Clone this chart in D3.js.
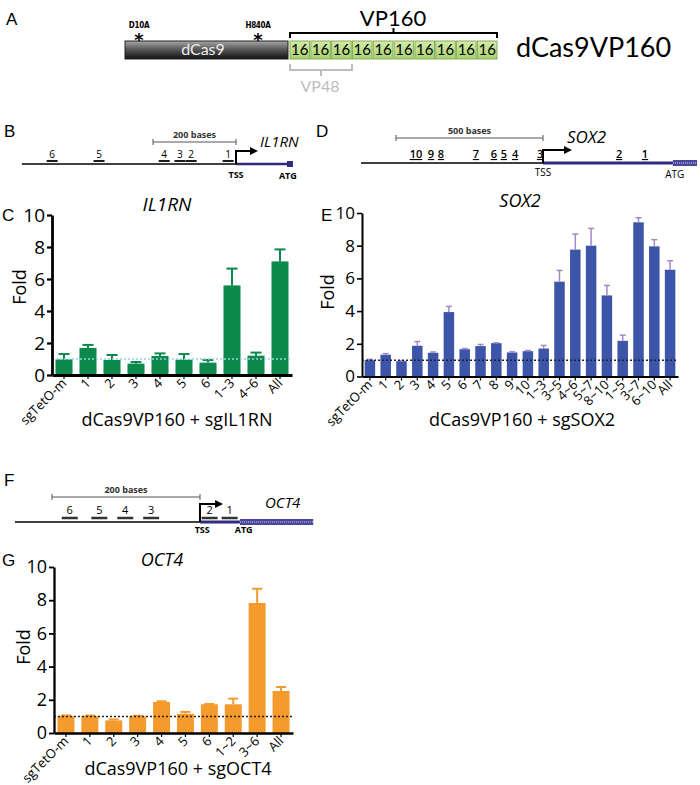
<!DOCTYPE html>
<html>
<head>
<meta charset="utf-8">
<title>dCas9VP160 activation</title>
<script src="https://d3js.org/d3.v7.min.js"></script>
<style>
  body { margin: 0; background: #fff; }
  svg { display: block; }
</style>
</head>
<body>
<div id="chart"></div>
<script>
// ---- data ----
var yTicks = [0, 2, 4, 6, 8, 10];

var il1rnLabels = ["sgTetO-m", "1", "2", "3", "4", "5", "6", "1~3", "4~6", "All"];
var il1rnFold = [0.98, 1.69, 0.94, 0.71, 1.19, 0.96, 0.77, 5.6, 1.21, 7.1];
var il1rnErr = [0.33, 0.19, 0.31, 0.10, 0.16, 0.35, 0.17, 1.05, 0.19, 0.75];

var sox2Labels = ["sgTetO-m", "1", "2", "3", "4", "5", "6", "7", "8", "9", "10",
  "1~3", "3~5", "4~6", "5~7", "8~10", "1~5", "3~7", "6~10", "All"];
var sox2Fold = [1.0, 1.33, 0.94, 1.88, 1.45, 3.94, 1.67, 1.86, 2.04, 1.47, 1.55,
  1.71, 5.8, 7.76, 8.0, 4.96, 2.18, 9.43, 7.96, 6.53];
var sox2Err = [0.05, 0.07, 0.03, 0.26, 0.05, 0.35, 0.04, 0.10, 0.02, 0.04, 0.04,
  0.19, 0.69, 0.95, 1.06, 0.61, 0.35, 0.28, 0.41, 0.55];

var oct4Labels = ["sgTetO-m", "1", "2", "3", "4", "5", "6", "1~2", "3~6", "All"];
var oct4Fold = [1.02, 1.02, 0.76, 1.0, 1.87, 1.16, 1.73, 1.73, 7.83, 2.53];
var oct4Err = [0.04, 0.03, 0.06, 0.04, 0.04, 0.11, 0.02, 0.34, 0.86, 0.24];

// guide positions in bases relative to the TSS
var il1rnGuides = ["6", "5", "4", "3", "2", "1"];
var il1rnGuidePos = [-443, -330, -173, -135, -108, -19];
var sox2Guides = ["10", "9", "8", "7", "6", "5", "4", "3", "2", "1"];
var sox2GuidePos = [-432, -381, -347, -228, -167, -133, -95, -10, 259, 347];
var oct4Guides = ["6", "5", "4", "3", "2", "1"];
var oct4GuidePos = [-176, -136, -101, -66, 13, 40];

var vpUnits = ["16", "16", "16", "16", "16", "16", "16", "16", "16", "16"];

var F = "'Open Sans', sans-serif";
var svg = d3.select("#chart").append("svg").attr("width", 700).attr("height", 785);

function letter(t, x, y) {
  svg.append("text").attr("x", x).attr("y", y).text(t)
    .attr("font-family", "'Liberation Sans', Arial, sans-serif").attr("font-size", 17);
}

// ---- panel A : construct ----
letter("A", 6, 25);
var defs = svg.append("defs");
var grad = defs.append("linearGradient").attr("id", "cas").attr("x1", 0).attr("y1", 0).attr("x2", 0).attr("y2", 1);
grad.append("stop").attr("offset", "0%").attr("stop-color", "#a8a8a8");
grad.append("stop").attr("offset", "45%").attr("stop-color", "#5a5a5a");
grad.append("stop").attr("offset", "100%").attr("stop-color", "#111");
var ggrad = defs.append("linearGradient").attr("id", "vp").attr("x1", 0).attr("y1", 0).attr("x2", 0).attr("y2", 1);
ggrad.append("stop").attr("offset", "0%").attr("stop-color", "#d2eba9");
ggrad.append("stop").attr("offset", "100%").attr("stop-color", "#a9d170");

svg.append("rect").attr("x", 125).attr("y", 41).attr("width", 163).attr("height", 18)
  .attr("fill", "url(#cas)").attr("stroke", "#222").attr("stroke-width", 1);
svg.append("text").attr("x", 203).attr("y", 55).attr("text-anchor", "middle")
  .attr("fill", "#eee").attr("font-family", "Lato, sans-serif").attr("font-size", 16).text("dCas9");

var ux = d3.scaleBand().domain(d3.range(vpUnits.length)).range([290, 497]).paddingInner(0.06);
svg.selectAll(".vp").data(vpUnits).join("rect")
  .attr("x", function(d, i) { return ux(i); }).attr("y", 41)
  .attr("width", ux.bandwidth()).attr("height", 18)
  .attr("fill", "url(#vp)").attr("stroke", "#86ad58").attr("stroke-width", 1);
svg.selectAll(".vpt").data(vpUnits).join("text")
  .attr("x", function(d, i) { return ux(i) + ux.bandwidth() / 2; }).attr("y", 55)
  .attr("text-anchor", "middle").attr("font-family", "Lato, sans-serif").attr("font-size", 15).text(function(d) { return d; });

// mutations
[["D10A", 139], ["H840A", 258]].forEach(function(m) {
  svg.append("text").attr("x", m[1]).attr("y", 28).attr("text-anchor", "middle")
    .attr("font-family", "'DejaVu Sans Condensed', 'DejaVu Sans', sans-serif").attr("font-weight", "bold")
    .attr("font-size", 8).attr("letter-spacing", -0.3).text(m[0]);
  svg.append("text").attr("x", m[1]).attr("y", 46).attr("text-anchor", "middle")
    .attr("font-family", "'DejaVu Sans', sans-serif").attr("font-weight", "bold").attr("font-size", 18).text("*");
});

// VP160 bracket
svg.append("path").attr("d", "M290,38 V33 H497 V38 M393.5,33 V28")
  .attr("fill", "none").attr("stroke", "#000").attr("stroke-width", 2);
svg.append("text").attr("x", 393).attr("y", 26).attr("text-anchor", "middle")
  .attr("font-family", "Lato, sans-serif").attr("font-size", 22).text("VP160");
svg.append("text").attr("x", 516).attr("y", 57)
  .attr("font-family", "Lato, sans-serif").attr("font-size", 27).text("dCas9VP160");
// VP48 bracket
svg.append("path").attr("d", "M290,64 V70 H352 V64 M321,70 V76")
  .attr("fill", "none").attr("stroke", "#bdbdbd").attr("stroke-width", 2);
svg.append("text").attr("x", 320).attr("y", 92).attr("text-anchor", "middle").attr("fill", "#bdbdbd")
  .attr("font-family", "Lato, sans-serif").attr("font-size", 16).text("VP48");

// ---- promoter schematics ----
var navy = "#2e2c7c";
function smallText(t, x, y, size, anchor) {
  return svg.append("text").attr("x", x).attr("y", y).attr("text-anchor", anchor || "middle")
    .attr("font-family", F).attr("font-size", size).text(t);
}
function scaleBar(x1, x2, y, label) {
  svg.append("path").attr("d", "M" + x1 + "," + (y - 3) + "V" + (y + 3) + "M" + x1 + "," + y + "H" + x2 + "M" + x2 + "," + (y - 3) + "V" + (y + 3))
    .attr("stroke", "#555").attr("stroke-width", 1).attr("fill", "none");
  smallText(label, (x1 + x2) / 2, y - 4, 9).attr("font-weight", "bold").attr("fill", "#333");
}
function tssArrow(x, yLine, yTop, xEnd) {
  svg.append("path").attr("d", "M" + x + "," + yLine + "V" + yTop + "H" + (xEnd - 6))
    .attr("fill", "none").attr("stroke", "#000").attr("stroke-width", 2);
  svg.append("path").attr("d", "M" + xEnd + "," + yTop + "l-8,-4v8z").attr("fill", "#000");
}
function hatch(x1, x2, y) {
  svg.append("rect").attr("x", x1).attr("y", y - 3).attr("width", x2 - x1).attr("height", 6).attr("fill", "#4a479a");
  svg.append("line").attr("x1", x1).attr("x2", x2).attr("y1", y).attr("y2", y)
    .attr("stroke", "#a9a7d6").attr("stroke-width", 1.5).attr("stroke-dasharray", "1,1");
}

// B : IL1RN
letter("B", 4, 137);
var bx = d3.scaleLinear().domain([-200, 0]).range([153, 236]);
svg.append("line").attr("x1", bx(-516)).attr("x2", bx(0)).attr("y1", 164).attr("y2", 164).attr("stroke", "#000").attr("stroke-width", 1.5);
svg.append("line").attr("x1", bx(0)).attr("x2", bx(130)).attr("y1", 164).attr("y2", 164).attr("stroke", navy).attr("stroke-width", 2.5);
svg.append("rect").attr("x", bx(130) - 3).attr("y", 161).attr("width", 6).attr("height", 6).attr("fill", navy);
scaleBar(bx(-200), bx(0), 142, "200 bases");
tssArrow(bx(0), 164, 151, 258);
smallText("IL1RN", 260, 147, 15, "start").attr("font-style", "italic");
smallText("TSS", bx(0), 178, 9).attr("font-weight", "bold");
smallText("ATG", bx(125), 179, 9).attr("font-weight", "bold");
il1rnGuides.forEach(function(g, i) {
  var cx = bx(il1rnGuidePos[i]);
  smallText(g, cx, 158, 10);
  svg.append("line").attr("x1", cx - 5.5).attr("x2", cx + 5.5).attr("y1", 161).attr("y2", 161).attr("stroke", "#000").attr("stroke-width", 1.8);
});

// D : SOX2
letter("D", 316, 137);
var dx = d3.scaleLinear().domain([-500, 0]).range([396, 543]);
svg.append("line").attr("x1", dx(-619)).attr("x2", dx(0)).attr("y1", 163).attr("y2", 163).attr("stroke", "#000").attr("stroke-width", 1.5);
svg.append("line").attr("x1", dx(0)).attr("x2", dx(442)).attr("y1", 163).attr("y2", 163).attr("stroke", navy).attr("stroke-width", 3);
hatch(dx(442), dx(524), 163);
scaleBar(dx(-500), dx(0), 138, "500 bases");
tssArrow(dx(0), 163, 150, 572);
smallText("SOX2", 567, 143, 17, "start").attr("font-style", "italic");
smallText("TSS", dx(0), 176, 10);
smallText("ATG", dx(448), 178, 10);
sox2Guides.forEach(function(g, i) {
  var cx = dx(sox2GuidePos[i]);
  smallText(g, cx, 158, 11).attr("text-decoration", "underline").attr("font-weight", "600");
});

// F : OCT4
letter("F", 4, 486);
var fx = d3.scaleLinear().domain([-200, 0]).range([52, 200]);
svg.append("line").attr("x1", fx(-250)).attr("x2", fx(0)).attr("y1", 522).attr("y2", 522).attr("stroke", "#000").attr("stroke-width", 1.5);
svg.append("line").attr("x1", fx(0)).attr("x2", fx(54)).attr("y1", 522).attr("y2", 522).attr("stroke", navy).attr("stroke-width", 3);
hatch(fx(54), fx(153), 522);
scaleBar(fx(-200), fx(0), 497, "200 bases");
tssArrow(fx(0), 522, 504, 223);
smallText("OCT4", 265, 508, 15, "start").attr("font-style", "italic");
smallText("TSS", fx(3), 533, 9).attr("font-weight", "bold");
smallText("ATG", fx(59), 533, 9).attr("font-weight", "bold");
oct4Guides.forEach(function(g, i) {
  var cx = fx(oct4GuidePos[i]);
  smallText(g, cx, 514, 11);
  svg.append("line").attr("x1", cx - 8).attr("x2", cx + 8).attr("y1", 518).attr("y2", 518).attr("stroke", "#333").attr("stroke-width", 2.5);
});

// ---- bar charts ----
function barPanel(p) {
  var x = d3.scaleBand().domain(p.labels).range([p.left, p.right])
    .paddingInner(p.pad).paddingOuter(p.pad / 2);
  var y = d3.scaleLinear().domain([0, 10]).range([p.bottom, p.top]);
  var rows = p.labels.map(function(l, i) { return { label: l, v: p.fold[i], e: p.err[i] }; });
  var g = svg.append("g");

  g.selectAll(".bar").data(rows).join("rect")
    .attr("x", function(d) { return x(d.label); })
    .attr("y", function(d) { return y(d.v); })
    .attr("width", x.bandwidth())
    .attr("height", function(d) { return y(0) - y(d.v); })
    .attr("fill", p.color);

  var cx = function(d) { return x(d.label) + x.bandwidth() / 2; };
  g.selectAll(".err").data(rows).join("line")
    .attr("x1", cx).attr("x2", cx)
    .attr("y1", function(d) { return y(d.v); })
    .attr("y2", function(d) { return y(d.v + d.e); })
    .attr("stroke", p.errColor).attr("stroke-width", p.errW);
  g.selectAll(".cap").data(rows).join("line")
    .attr("x1", function(d) { return cx(d) - p.cap / 2; })
    .attr("x2", function(d) { return cx(d) + p.cap / 2; })
    .attr("y1", function(d) { return y(d.v + d.e); })
    .attr("y2", function(d) { return y(d.v + d.e); })
    .attr("stroke", p.errColor).attr("stroke-width", p.errW);

  g.append("line").attr("x1", p.left).attr("x2", p.right)
    .attr("y1", y(1)).attr("y2", y(1))
    .attr("stroke", p.refColor).attr("stroke-width", 1.5).attr("stroke-dasharray", "2,2");

  var ya = g.append("g").attr("transform", "translate(" + p.left + ",0)")
    .call(d3.axisLeft(y).tickValues(yTicks).tickSize(5).tickSizeOuter(0).tickPadding(2));
  ya.attr("font-family", F).attr("font-size", p.yFont);
  ya.select(".domain").attr("stroke-width", p.axisW);
  ya.selectAll(".tick line").attr("stroke-width", p.axisW * 0.8);

  var xa = g.append("g").attr("transform", "translate(0," + p.bottom + ")")
    .call(d3.axisBottom(x).tickSize(4).tickSizeOuter(0));
  xa.attr("font-family", F).attr("font-size", 13);
  xa.select(".domain").attr("stroke-width", p.axisW);
  xa.selectAll(".tick line").attr("stroke-width", 1.2);
  xa.selectAll("text").attr("x", -4).attr("y", 4).attr("dy", "0.35em")
    .attr("transform", "rotate(-45)").attr("text-anchor", "end");

  g.append("text").attr("transform", "translate(" + p.foldX + "," + p.foldY + ") rotate(-90)")
    .attr("text-anchor", "middle").attr("font-family", F).attr("font-size", 18).text("Fold");
  g.append("text").attr("x", p.titleX).attr("y", p.titleY).attr("text-anchor", "middle")
    .attr("font-family", F).attr("font-style", "italic").attr("font-size", p.titleSize).text(p.title);
  g.append("text").attr("x", p.xlabX).attr("y", p.xlabY).attr("text-anchor", "middle")
    .attr("font-family", F).attr("font-size", 18).text(p.xlab);
}

letter("C", 2, 221);
barPanel({
  labels: il1rnLabels, fold: il1rnFold, err: il1rnErr,
  left: 52, right: 292, top: 215, bottom: 375, pad: 0.29,
  color: "#0d8a4b", errColor: "#0d8a4b", errW: 2, cap: 11, refColor: "#8fd2ee",
  axisW: 2.8, yFont: 19,
  foldX: 26, foldY: 287, title: "IL1RN", titleX: 167, titleY: 211, titleSize: 19,
  xlab: "dCas9VP160 + sgIL1RN", xlabX: 177, xlabY: 426
});

letter("E", 321, 221);
barPanel({
  labels: sox2Labels, fold: sox2Fold, err: sox2Err,
  left: 362, right: 678, top: 213, bottom: 376.5, pad: 0.335,
  color: "#3d55a8", errColor: "#a288c6", errW: 1.5, cap: 6, refColor: "#222",
  axisW: 2, yFont: 17,
  foldX: 334, foldY: 292, title: "SOX2", titleX: 520, titleY: 207, titleSize: 18,
  xlab: "dCas9VP160 + sgSOX2", xlabX: 522, xlabY: 426
});

letter("G", 2, 566);
barPanel({
  labels: oct4Labels, fold: oct4Fold, err: oct4Err,
  left: 54, right: 293, top: 567, bottom: 733, pad: 0.29,
  color: "#f59a2c", errColor: "#f59a2c", errW: 2, cap: 10, refColor: "#222",
  axisW: 2.3, yFont: 18,
  foldX: 30, foldY: 647, title: "OCT4", titleX: 162, titleY: 566, titleSize: 18,
  xlab: "dCas9VP160 + sgOCT4", xlabX: 178, xlabY: 775
});
</script>
</body>
</html>
